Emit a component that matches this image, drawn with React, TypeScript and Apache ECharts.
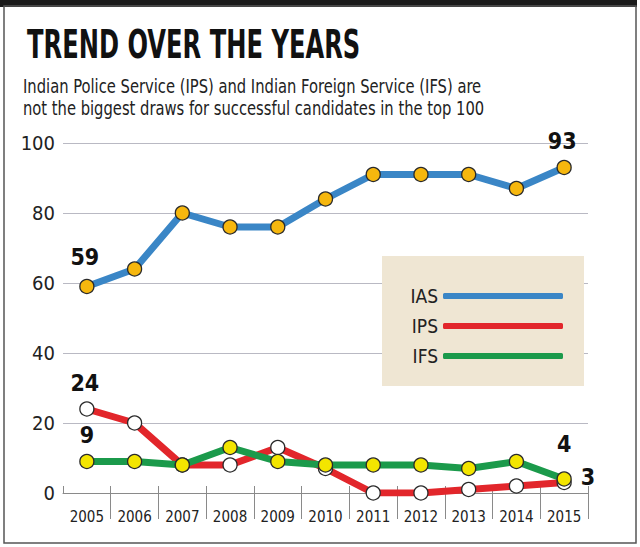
import React, { useEffect, useRef } from "react";
import * as echarts from "echarts";

const years = ["2005", "2006", "2007", "2008", "2009", "2010", "2011", "2012", "2013", "2014", "2015"];
const ias = [59, 64, 80, 76, 76, 84, 91, 91, 91, 87, 93];
const ips = [24, 20, 8, 8, 13, 7, 0, 0, 1, 2, 3];
const ifs = [9, 9, 8, 13, 9, 8, 8, 8, 7, 9, 4];
const yTicks = { min: 0, max: 100, interval: 20 };
const titleText = "TREND OVER THE YEARS";
const subtitleLines = [
  "Indian Police Service (IPS) and Indian Foreign Service (IFS) are",
  "not the biggest draws for successful candidates in the top 100",
];

const FONT = "'DejaVu Sans Condensed', 'DejaVu Sans', sans-serif";

const BLUE = "#3a86c6";
const RED = "#e2262b";
const GREEN = "#1b9a4b";

function withLabels(values: number[], labels: Record<number, any>) {
  return values.map((v, i) => (labels[i] ? { value: v, label: { show: true, ...labels[i] } } : v));
}

export default function App() {
  const ref = useRef<HTMLDivElement>(null);
  useEffect(() => {
    if (!ref.current) return;
    const chart = echarts.init(ref.current, undefined, { renderer: "svg" });
    const labelStyle = { fontFamily: FONT, fontSize: 23, fontWeight: "bold", color: "#111" };
    const markerBorder = { borderColor: "#2a2a2a", borderWidth: 1.3 };
    chart.setOption({
      animation: false,
      backgroundColor: "#ffffff",
      grid: { left: 63, right: 52, top: 143, bottom: 54 },
      xAxis: [
        {
          type: "category",
          data: years,
          boundaryGap: true,
          axisLine: { lineStyle: { color: "#8a8a8a", width: 1 } },
          axisTick: { show: true, inside: true, length: 7, interval: 0, lineStyle: { color: "#8a8a8a" } },
          axisLabel: { fontFamily: FONT, fontSize: 15, color: "#222", margin: 16, interval: 0 },
          splitLine: { show: false },
        },
        {
          type: "category",
          data: years,
          position: "bottom",
          boundaryGap: true,
          axisLine: { show: false },
          axisTick: {
            show: true,
            length: 26,
            interval: (i: number) => i !== 0,
            lineStyle: { color: "#8a8a8a" },
          },
          axisLabel: { show: false, interval: 0 },
          splitLine: { show: false },
        },
      ],
      yAxis: {
        type: "value",
        min: yTicks.min,
        max: yTicks.max,
        interval: yTicks.interval,
        axisLine: { show: false },
        axisTick: { show: false },
        axisLabel: { fontFamily: FONT, fontSize: 20, color: "#222", margin: 8 },
        splitLine: { lineStyle: { color: "#b9b9c3", width: 1 } },
      },
      legend: {
        orient: "vertical",
        left: 382,
        top: 256,
        backgroundColor: "#efe6d3",
        padding: [30, 21, 20, 26],
        itemGap: 10,
        itemWidth: 120,
        itemHeight: 6,
        align: "right",
        icon: "roundRect",
        textStyle: { fontFamily: FONT, fontSize: 19, color: "#222", width: 30, align: "right", lineHeight: 20 },
        data: [
          { name: "IAS", itemStyle: { color: BLUE, borderWidth: 0 } },
          { name: "IPS", itemStyle: { color: RED, borderWidth: 0 } },
          { name: "IFS", itemStyle: { color: GREEN, borderWidth: 0 } },
        ],
      },
      graphic: [
        { type: "rect", shape: { x: 0, y: 0, width: 637, height: 7 }, style: { fill: "#1a1a1a" } },
        {
          type: "rect",
          shape: { x: 4, y: 6, width: 632, height: 537 },
          style: { fill: "none", stroke: "#555", lineWidth: 1.5 },
        },
        {
          type: "text",
          x: 27,
          y: 25,
          scaleX: 0.69,
          style: { text: titleText, fontFamily: FONT, fontSize: 39, fontWeight: "bold", fill: "#111" },
        },
        {
          type: "text",
          x: 23,
          y: 76,
          scaleX: 0.82,
          style: { text: subtitleLines[0], fontFamily: FONT, fontSize: 20, fill: "#222" },
        },
        {
          type: "text",
          x: 23,
          y: 98,
          scaleX: 0.82,
          style: { text: subtitleLines[1], fontFamily: FONT, fontSize: 20, fill: "#222" },
        },
      ],
      series: [
        {
          name: "IAS",
          type: "line",
          data: withLabels(ias, {
            0: { position: "top", distance: 10, offset: [-2, 0], ...labelStyle },
            10: { position: "top", distance: 7, offset: [-2, 0], ...labelStyle },
          }),
          symbol: "circle",
          symbolSize: 14,
          lineStyle: { color: BLUE, width: 7 },
          itemStyle: { color: "#f6b70e", ...markerBorder },
          z: 3,
        },
        {
          name: "IPS",
          type: "line",
          data: withLabels(ips, {
            0: { position: "top", distance: 7, offset: [-2, 0], ...labelStyle },
            10: { position: "right", distance: 9, offset: [0, -6], ...labelStyle },
          }),
          symbol: "circle",
          symbolSize: 14,
          lineStyle: { color: RED, width: 7 },
          itemStyle: { color: "#ffffff", ...markerBorder },
          z: 3,
        },
        {
          name: "IFS",
          type: "line",
          data: withLabels(ifs, {
            0: { position: "top", distance: 7, offset: [0, 0], ...labelStyle },
            10: { position: "top", distance: 16, offset: [0, 0], ...labelStyle },
          }),
          symbol: "circle",
          symbolSize: 14,
          lineStyle: { color: GREEN, width: 7 },
          itemStyle: { color: "#f3e500", ...markerBorder },
          z: 3,
        },
      ],
    });
    return () => chart.dispose();
  }, []);
  return (
    <div
      ref={ref}
      style={{ position: "absolute", left: 0, top: 0, width: 640, height: 547 }}
    />
  );
}
